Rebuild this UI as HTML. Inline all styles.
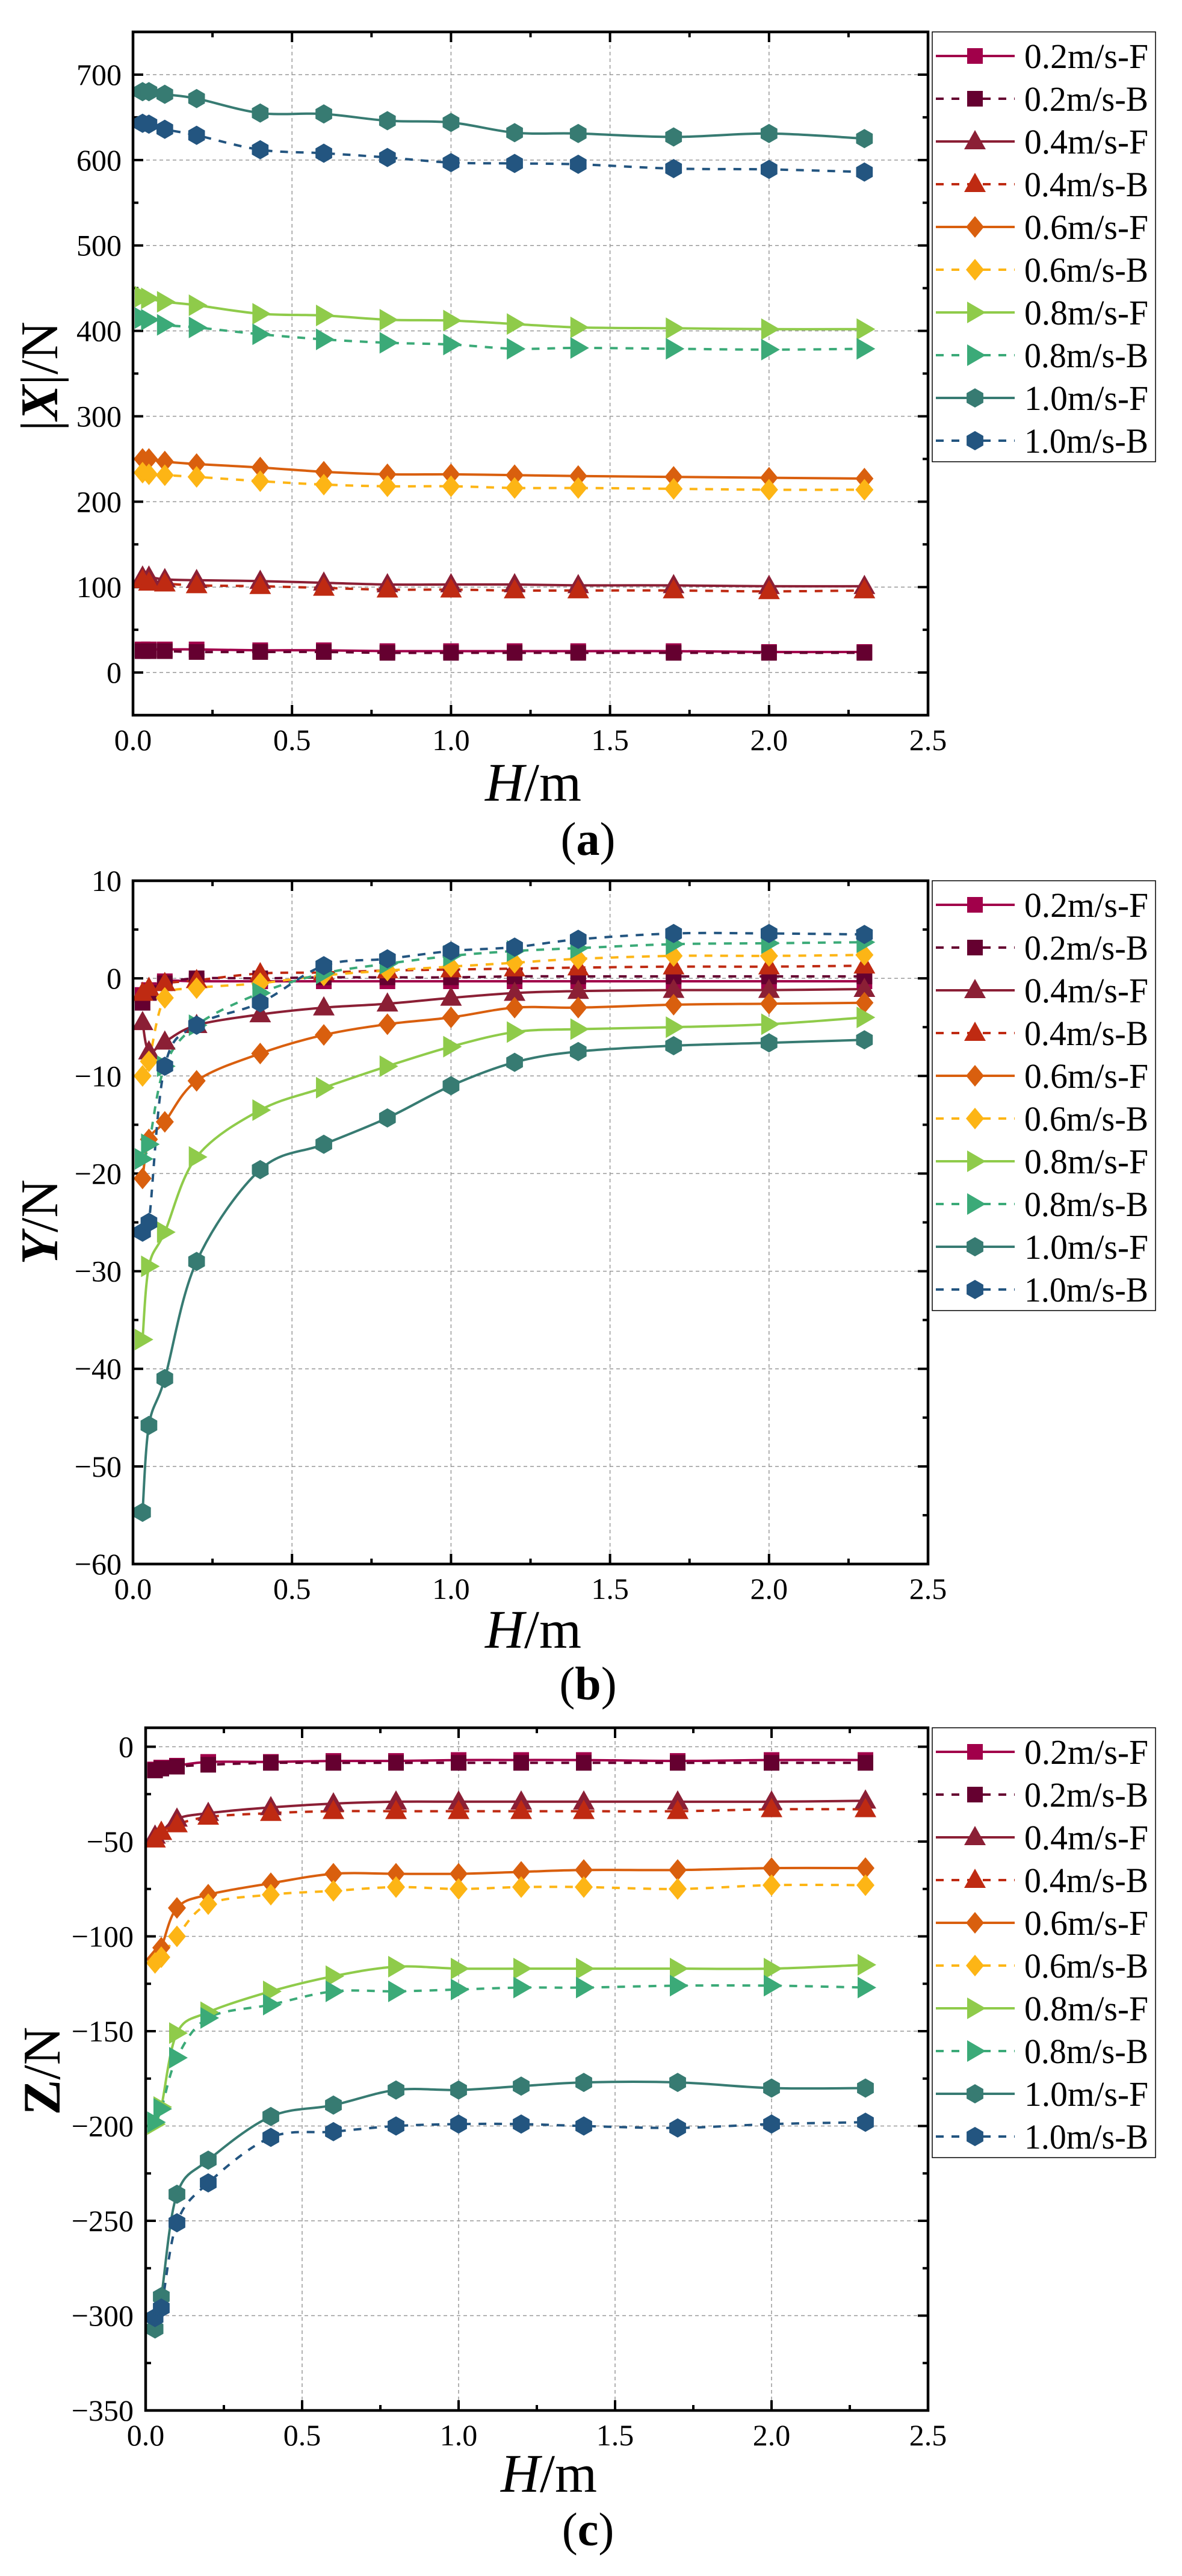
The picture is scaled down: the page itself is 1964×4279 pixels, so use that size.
<!DOCTYPE html>
<html><head><meta charset="utf-8">
<style>html,body{margin:0;padding:0;background:#fff;}svg{display:block;}</style>
</head><body>
<svg id="s" width="1964" height="4279" xmlns="http://www.w3.org/2000/svg" font-family="'Liberation Serif', serif"></svg>
<script>
const S=document.getElementById('s');let out='';
const X=[0.03,0.05,0.1,0.2,0.4,0.6,0.8,1.0,1.2,1.4,1.7,2.0,2.3];
const series=[
{n:'0.2m/s-F',c:'#A1004A',m:'sq',d:0},{n:'0.2m/s-B',c:'#650030',m:'sq',d:1},
{n:'0.4m/s-F',c:'#8B1F35',m:'tri',d:0},{n:'0.4m/s-B',c:'#BF2A12',m:'tri',d:1},
{n:'0.6m/s-F',c:'#D95F0E',m:'dia',d:0},{n:'0.6m/s-B',c:'#FDB515',m:'dia',d:1},
{n:'0.8m/s-F',c:'#8FCB4A',m:'rt',d:0},{n:'0.8m/s-B',c:'#3BAA78',m:'rt',d:1},
{n:'1.0m/s-F',c:'#377B72',m:'hex',d:0},{n:'1.0m/s-B',c:'#235580',m:'hex',d:1}];
const DA=[
[[27,27,27,27,26,26,25,25,25,25,25,24,24],[25,25,25,24,24,24,23,23,23,23,23,23,23],
[112,112,109,108,107,105,103,103,103,102,102,101,101],[108,105,104,102,101,99,97,97,96,96,96,95,96],
[250,250,247,244,240,235,232,232,231,230,229,228,227],[234,232,231,229,224,220,218,218,216,216,215,214,214],
[440,438,434,430,420,418,413,412,408,404,403,402,402],[415,413,407,404,396,390,386,384,379,380,379,378,379],
[680,680,677,672,655,654,646,644,632,631,627,631,625],[643,642,636,629,612,608,603,597,596,595,590,589,586]],
[[-1.7,-1.2,-0.3,-0.3,-0.3,-0.3,-0.3,-0.3,-0.3,-0.3,-0.3,-0.3,-0.3],[-2.5,-1.5,-0.5,0,0,0.1,0.1,0.1,0.2,0.2,0.2,0.2,0.2],
[-4.5,-7.5,-6.5,-4.8,-3.7,-3,-2.6,-2,-1.5,-1.3,-1.2,-1.2,-1.1],[-1.5,-1,-0.5,-0.2,0.5,0.6,0.8,0.9,1.0,1.1,1.2,1.2,1.3],
[-20.5,-16.5,-14.7,-10.5,-7.7,-5.8,-4.7,-4,-3,-3,-2.7,-2.6,-2.5],[-10,-8.5,-2,-1,-0.5,0.3,0.8,1.2,1.6,2,2.3,2.3,2.4],
[-37,-29.5,-26,-18.3,-13.5,-11.2,-9,-7,-5.5,-5.2,-5,-4.7,-4],[-18.5,-17,-9,-4.8,-1.5,0.5,1.5,2.3,2.8,3.1,3.5,3.6,3.7],
[-54.7,-45.8,-41,-29,-19.6,-17,-14.3,-11,-8.6,-7.5,-6.9,-6.6,-6.3],[-26,-25,-9,-4.8,-2.5,1.3,2,2.8,3.2,4,4.6,4.6,4.5]],
[[-12,-11,-10,-8,-8,-7.5,-7.5,-7,-7,-7,-7.5,-7,-7],[-12.5,-11.5,-10.5,-9.5,-8.5,-8.5,-8.5,-8.5,-8.5,-8.5,-8.5,-8.5,-8.5],
[-47,-45,-38,-35,-32,-30,-29,-29,-29,-29,-29,-29,-28.5],[-49,-45,-41,-37,-35,-34,-34,-34,-34,-34,-34,-33,-33],
[-112,-106,-85,-78,-72,-67,-67,-67,-66,-65,-65,-64,-64],[-114,-111,-100,-83,-78,-76,-74,-75,-74,-74,-75,-73,-73],
[-199,-190,-151,-140,-129,-121,-116,-117,-117,-117,-117,-117,-115],[-198,-191,-164,-143,-136,-129,-129,-128,-127,-127,-126,-126,-127],
[-307,-290,-236,-218,-195,-189,-181,-181,-179,-177,-177,-180,-180],[-301,-296,-251,-230,-206,-203,-200,-199,-199,-200,-201,-199,-198]]];
const P=[
{L:221,R:1542,T:53,B:1188,y0:-50,y1:750,maj:100,min:50,lr:202,title:'<tspan>|</tspan><tspan font-weight="bold" font-style="italic">X</tspan><tspan>|/N</tspan>',tx:95,ty:625,hx:886,hy:1330,cap:'a',cy:1420,cx:977},
{L:221,R:1542,T:1463,B:2598,y0:-60,y1:10,maj:10,min:5,lr:202,title:'<tspan font-weight="bold" font-style="italic">Y</tspan><tspan>/N</tspan>',tx:95,ty:2030,hx:886,hy:2737,cap:'b',cy:2823,cx:977},
{L:242,R:1542,T:2870,B:4004,y0:-350,y1:10,maj:50,min:25,lr:222,title:'<tspan font-weight="bold">Z</tspan><tspan>/N</tspan>',tx:99,ty:3440,hx:912,hy:4139,cap:'c',cy:4228,cx:977}];
function mk(t,x,y,c){
 if(t=='sq')return `<rect x="${x-13}" y="${y-13}" width="26" height="26" fill="${c}"/>`;
 if(t=='tri')return `<polygon points="${x},${y-19} ${x-18},${y+13} ${x+18},${y+13}" fill="${c}"/>`;
 if(t=='dia')return `<polygon points="${x},${y-18} ${x-15},${y} ${x},${y+18} ${x+15},${y}" fill="${c}"/>`;
 if(t=='rt')return `<polygon points="${x-13},${y-18} ${x+18},${y} ${x-13},${y+18}" fill="${c}"/>`;
 let p=[];for(let i=0;i<6;i++){let a=Math.PI/3*i+Math.PI/6;p.push((x+16*Math.cos(a)).toFixed(1)+','+(y+16*Math.sin(a)).toFixed(1));}
 return `<polygon points="${p.join(' ')}" fill="${c}"/>`;
}
function spline(pts){let d=`M${pts[0][0]},${pts[0][1]}`;for(let i=0;i<pts.length-1;i++){const p0=pts[Math.max(0,i-1)],p1=pts[i],p2=pts[i+1],p3=pts[Math.min(pts.length-1,i+2)];
 const c1=[p1[0]+(p2[0]-p0[0])/6,p1[1]+(p2[1]-p0[1])/6],c2=[p2[0]-(p3[0]-p1[0])/6,p2[1]-(p3[1]-p1[1])/6];
 d+=` C${c1[0].toFixed(1)},${c1[1].toFixed(1)} ${c2[0].toFixed(1)},${c2[1].toFixed(1)} ${p2[0].toFixed(1)},${p2[1].toFixed(1)}`;}return d;}
P.forEach((p,k)=>{
 const sx=v=>p.L+(p.R-p.L)*v/2.5, sy=v=>p.B-(p.B-p.T)*(v-p.y0)/(p.y1-p.y0);
 for(let v=0.5;v<2.49;v+=0.5)out+=`<line x1="${sx(v)}" y1="${p.T}" x2="${sx(v)}" y2="${p.B}" stroke="#999" stroke-width="1.5" stroke-dasharray="6,5"/>`;
 for(let v=Math.ceil(p.y0/p.maj)*p.maj;v<=p.y1;v+=p.maj){if(v==p.y0||v==p.y1)continue;out+=`<line x1="${p.L}" y1="${sy(v)}" x2="${p.R}" y2="${sy(v)}" stroke="#999" stroke-width="1.5" stroke-dasharray="6,5"/>`;}
 for(let v=0;v<=2.5001;v+=0.25){const maj=Math.abs(v*2-Math.round(v*2))<1e-6,l=maj?17:9;const x=sx(v);
  out+=`<line x1="${x}" y1="${p.B}" x2="${x}" y2="${p.B-l}" stroke="#000" stroke-width="4"/><line x1="${x}" y1="${p.T}" x2="${x}" y2="${p.T+l}" stroke="#000" stroke-width="4"/>`;
  if(maj)out+=`<text x="${x}" y="${k==0?1246:(k==1?2656:4062)}" font-size="50" text-anchor="middle">${v.toFixed(1)}</text>`;}
 for(let v=Math.ceil(p.y0/p.min)*p.min;v<=p.y1;v+=p.min){const maj=(v%p.maj)==0,l=maj?17:9,y=sy(v);
  out+=`<line x1="${p.L}" y1="${y}" x2="${p.L+l}" y2="${y}" stroke="#000" stroke-width="4"/><line x1="${p.R}" y1="${y}" x2="${p.R-l}" y2="${y}" stroke="#000" stroke-width="4"/>`;
  if(maj)out+=`<text x="${p.lr}" y="${y+17}" font-size="50" text-anchor="end">${v<0?'\u2212'+(-v):v}</text>`;}
 series.forEach((s,i)=>{const pts=X.map((x,j)=>[sx(x),sy(DA[k][i][j])]);
  out+=`<path d="${spline(pts)}" fill="none" stroke="${s.c}" stroke-width="4" ${s.d?'stroke-dasharray="13,13"':''}/>`;});
 series.forEach((s,i)=>{X.forEach((x,j)=>{out+=mk(s.m,sx(x),sy(DA[k][i][j]),s.c);});});
 out+=`<rect x="${p.L}" y="${p.T}" width="${p.R-p.L}" height="${p.B-p.T}" fill="none" stroke="#000" stroke-width="4.5"/>`;
 const lt=p.T;out+=`<rect x="1549" y="${lt}" width="371" height="714" fill="#fff" stroke="#000" stroke-width="1.5"/>`;
 series.forEach((s,i)=>{const y=lt+40+71*i;
  out+=`<line x1="1555" y1="${y}" x2="1686" y2="${y}" stroke="${s.c}" stroke-width="4" ${s.d?'stroke-dasharray="13,13"':''}/>`+mk(s.m,1620,y,s.c)+
  `<text x="1702" y="${y+20}" font-size="58" textLength="206" lengthAdjust="spacingAndGlyphs">${s.n}</text>`;});
 out+=`<text transform="translate(${p.tx},${p.ty}) rotate(-90)" font-size="88" text-anchor="middle">${p.title}</text>`;
 out+=`<text x="${p.hx}" y="${p.hy}" font-size="90" text-anchor="middle"><tspan font-style="italic">H</tspan>/m</text>`;
 out+=`<text x="${p.cx}" y="${p.cy}" font-size="78" text-anchor="middle">(<tspan font-weight="bold">${p.cap}</tspan>)</text>`;
});
S.innerHTML=out;
</script>
</body></html>
